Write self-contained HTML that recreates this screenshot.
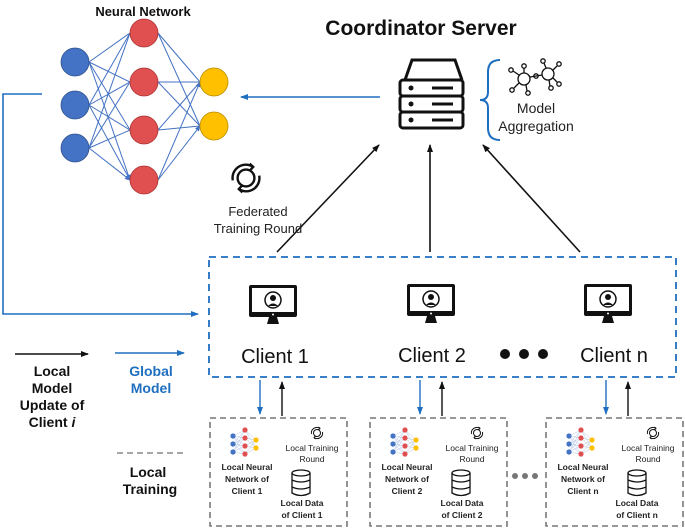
<!DOCTYPE html>
<html><head><meta charset="utf-8"><style>
html,body{margin:0;padding:0;background:#fff;}
svg{display:block;font-family:"Liberation Sans",Arial,sans-serif;}
</style></head><body>
<svg width="685" height="530" viewBox="0 0 685 530" xmlns="http://www.w3.org/2000/svg">
<defs>
<marker id="ab" markerWidth="8" markerHeight="8" refX="7" refY="4" orient="auto" markerUnits="userSpaceOnUse"><path d="M0,1 L8,4 L0,7 z" fill="#111"/></marker>
<marker id="au" markerWidth="8" markerHeight="8" refX="7" refY="4" orient="auto" markerUnits="userSpaceOnUse"><path d="M0,1 L8,4 L0,7 z" fill="#1f6fc0"/></marker>
<marker id="an" markerWidth="6" markerHeight="6" refX="5" refY="3" orient="auto" markerUnits="userSpaceOnUse"><path d="M0,0.5 L6,3 L0,5.5 z" fill="#4472c4"/></marker>
<g id="mon">
<rect x="-24" y="-20" width="48" height="32" rx="2" fill="#111"/>
<rect x="-21" y="-17" width="42" height="24" fill="#fff"/>
<circle cx="0" cy="-5" r="8" fill="#fff" stroke="#111" stroke-width="1.5"/>
<circle cx="0" cy="-7" r="3" fill="#111"/>
<path d="M-5,1 Q0,-4 5,1 z" fill="#111"/>
<circle cx="0" cy="9.5" r="1" fill="#fff"/>
<path d="M-4,12 L4,12 L6,19 L-6,19 z" fill="#111"/>
</g>
<g id="net">
<g stroke="#9bb4e0" stroke-width="0.4">
<path d="M0,6 L12,0 M0,6 L12,8 M0,6 L12,16 M0,6 L12,24 M0,14 L12,0 M0,14 L12,8 M0,14 L12,16 M0,14 L12,24 M0,22 L12,0 M0,22 L12,8 M0,22 L12,16 M0,22 L12,24 M12,0 L23,10 M12,8 L23,10 M12,16 L23,10 M12,24 L23,10 M12,0 L23,18 M12,8 L23,18 M12,16 L23,18 M12,24 L23,18"/>
</g>
<g fill="#4472c4"><circle cx="0" cy="6" r="2.6"/><circle cx="0" cy="14" r="2.6"/><circle cx="0" cy="22" r="2.6"/></g>
<g fill="#e05050"><circle cx="12" cy="0" r="2.6"/><circle cx="12" cy="8" r="2.6"/><circle cx="12" cy="16" r="2.6"/><circle cx="12" cy="24" r="2.6"/></g>
<g fill="#ffc000"><circle cx="23" cy="10" r="2.6"/><circle cx="23" cy="18" r="2.6"/></g>
</g>
<g id="db" fill="none" stroke="#111" stroke-width="1.3">
<ellipse cx="0" cy="0" rx="9" ry="3"/>
<path d="M-9,0 L-9,20 Q0,25 9,20 L9,0 M-9,7 Q0,11 9,7 M-9,14 Q0,18 9,14"/>
</g>
<g id="ref" fill="none" stroke="#111" stroke-width="1">
<path d="M-5.5,1 A5.5,5.5 0 0 1 3,-4.6"/><path d="M5.5,-1 A5.5,5.5 0 0 1 -3,4.6"/>
<path d="M1.5,-6 L3,-4.6 L1.5,-3" /><path d="M-1.5,6 L-3,4.6 L-1.5,3"/>
<circle cx="0" cy="0" r="3.5"/>
</g>
<g id="lbox">
<rect x="0" y="0" width="137" height="108" fill="none" stroke="#777" stroke-width="1.6" stroke-dasharray="6,4"/>
<use href="#net" x="23" y="12"/>
<use href="#ref" x="107" y="15"/>
<use href="#db" x="91" y="55"/>
</g>
</defs>

<text x="143" y="16" font-size="13" font-weight="bold" text-anchor="middle" fill="#111">Neural Network</text>
<g stroke="#4472c4" stroke-width="1" marker-end="url(#an)">
<path d="M89,62 L130,33 M89,62 L130,82 M89,62 L130,130 M89,62 L130,180"/>
<path d="M89,105 L130,33 M89,105 L130,82 M89,105 L130,130 M89,105 L130,180"/>
<path d="M89,148 L130,33 M89,148 L130,82 M89,148 L130,130 M89,148 L130,180"/>
<path d="M158,33 L200,82 M158,82 L200,82 M158,130 L200,82 M158,180 L200,82"/>
<path d="M158,33 L200,126 M158,82 L200,126 M158,130 L200,126 M158,180 L200,126"/>
</g>
<g fill="#4472c4" stroke="#2f528f" stroke-width="0.8"><circle cx="75" cy="62" r="14"/><circle cx="75" cy="105" r="14"/><circle cx="75" cy="148" r="14"/></g>
<g fill="#e05050" stroke="#a33" stroke-width="0.8"><circle cx="144" cy="33" r="14"/><circle cx="144" cy="82" r="14"/><circle cx="144" cy="130" r="14"/><circle cx="144" cy="180" r="14"/></g>
<g fill="#ffc000" stroke="#b88a00" stroke-width="0.8"><circle cx="214" cy="82" r="14"/><circle cx="214" cy="126" r="14"/></g>

<path d="M42,94 L3,94 L3,314 L198,314" fill="none" stroke="#1f6fc0" stroke-width="1.6" marker-end="url(#au)"/>
<path d="M380,97 L241,97" stroke="#1f6fc0" stroke-width="1.6" marker-end="url(#au)"/>

<text x="421" y="35" font-size="21" font-weight="bold" text-anchor="middle" fill="#111">Coordinator Server</text>
<g fill="none" stroke="#111" stroke-width="3">
<path d="M405,80 L412,60 L455,60 L462,80"/>
<rect x="400" y="80" width="63" height="16" rx="3"/>
<rect x="400" y="96" width="63" height="16" rx="3"/>
<rect x="400" y="112" width="63" height="16" rx="3"/>
<path d="M432,88 L453,88 M432,104 L453,104 M432,120 L453,120"/>
</g>
<g fill="#111"><circle cx="411" cy="88" r="2.5"/><circle cx="411" cy="104" r="2.5"/><circle cx="411" cy="120" r="2.5"/></g>
<path d="M500,60 Q488,60 488,72 L488,92 Q488,100 480,100 Q488,100 488,108 L488,128 Q488,140 500,140" fill="none" stroke="#1f6fc0" stroke-width="2"/>
<g fill="none" stroke="#111" stroke-width="1.3">
<circle cx="524" cy="79" r="6"/><circle cx="548" cy="74" r="6"/>
<path d="M530,77 L542,75 M519,75 L513,71 M519,83 L514,88 M526,85 L527,91 M553,70 L557,66 M553,78 L557,82 M546,68 L544,63 M524,73 L524,68 M549,80 L550,86"/>
<circle cx="511" cy="70" r="2.2"/><circle cx="512" cy="90" r="2.2"/><circle cx="528" cy="93" r="2.2"/><circle cx="559" cy="64" r="2.2"/><circle cx="559" cy="84" r="2.2"/><circle cx="543" cy="61" r="2.2"/><circle cx="524" cy="66" r="2.2"/><circle cx="551" cy="88" r="2.2"/><circle cx="536" cy="76" r="2.2"/>
</g>
<text x="536" y="113" font-size="14" text-anchor="middle" fill="#222">Model</text>
<text x="536" y="131" font-size="14" text-anchor="middle" fill="#222">Aggregation</text>

<g transform="translate(246,178) scale(2.4)"><use href="#ref"/></g>
<text x="258" y="216" font-size="13" text-anchor="middle" fill="#222">Federated</text>
<text x="258" y="233" font-size="13" text-anchor="middle" fill="#222">Training Round</text>

<rect x="209" y="257" width="467" height="120" fill="none" stroke="#1f6fc0" stroke-width="1.8" stroke-dasharray="7,5"/>
<g stroke="#111" stroke-width="1.6" marker-end="url(#ab)">
<path d="M277,252 L379,145"/><path d="M430,252 L430,145"/><path d="M580,252 L483,145"/>
</g>
<use href="#mon" x="273" y="305"/>
<use href="#mon" x="431" y="304"/>
<use href="#mon" x="608" y="304"/>
<g font-size="20" fill="#111" text-anchor="middle">
<text x="275" y="363">Client 1</text><text x="432" y="362">Client 2</text><text x="614" y="362">Client n</text>
</g>
<g fill="#111"><circle cx="505" cy="354" r="5"/><circle cx="524" cy="354" r="5"/><circle cx="543" cy="354" r="5"/></g>

<path d="M15,354 L88,354" stroke="#111" stroke-width="1.4" marker-end="url(#ab)"/>
<path d="M115,353 L184,353" stroke="#1f6fc0" stroke-width="1.4" marker-end="url(#au)"/>
<g font-size="14" font-weight="bold" text-anchor="middle" fill="#111">
<text x="52" y="376">Local</text><text x="52" y="393">Model</text><text x="52" y="410">Update of</text><text x="52" y="427">Client <tspan font-style="italic">i</tspan></text>
<text x="148" y="477">Local</text><text x="150" y="494">Training</text>
</g>
<g font-size="14" font-weight="bold" text-anchor="middle" fill="#1f6fc0"><text x="151" y="376">Global</text><text x="151" y="393">Model</text></g>
<path d="M117,453 L187,453" stroke="#888" stroke-width="1.6" stroke-dasharray="6,4"/>

<g stroke="#1f6fc0" stroke-width="1.4" marker-end="url(#au)">
<path d="M260,380 L260,414"/><path d="M420,380 L420,414"/><path d="M606,380 L606,414"/>
</g>
<g stroke="#111" stroke-width="1.4" marker-end="url(#ab)">
<path d="M282,416 L282,382"/><path d="M442,416 L442,382"/><path d="M628,416 L628,382"/>
</g>

<use href="#lbox" x="210" y="418"/>
<use href="#lbox" x="370" y="418"/>
<use href="#lbox" x="546" y="418"/>
<g fill="#777"><circle cx="515" cy="476" r="3"/><circle cx="525" cy="476" r="3"/><circle cx="535" cy="476" r="3"/></g>
<g font-size="8.5" fill="#222" text-anchor="middle">
<text x="312" y="451">Local Training</text><text x="312" y="462">Round</text>
<text x="472" y="451">Local Training</text><text x="472" y="462">Round</text>
<text x="648" y="451">Local Training</text><text x="648" y="462">Round</text>
</g>
<g font-size="8.5" font-weight="bold" fill="#222" text-anchor="middle">
<text x="247" y="470">Local Neural</text><text x="247" y="482">Network of</text><text x="247" y="494">Client 1</text>
<text x="407" y="470">Local Neural</text><text x="407" y="482">Network of</text><text x="407" y="494">Client 2</text>
<text x="583" y="470">Local Neural</text><text x="583" y="482">Network of</text><text x="583" y="494">Client n</text>
<text x="302" y="506">Local Data</text><text x="302" y="518">of Client 1</text>
<text x="462" y="506">Local Data</text><text x="462" y="518">of Client 2</text>
<text x="637" y="506">Local Data</text><text x="637" y="518">of Client n</text>
</g>
</svg>
</body></html>
